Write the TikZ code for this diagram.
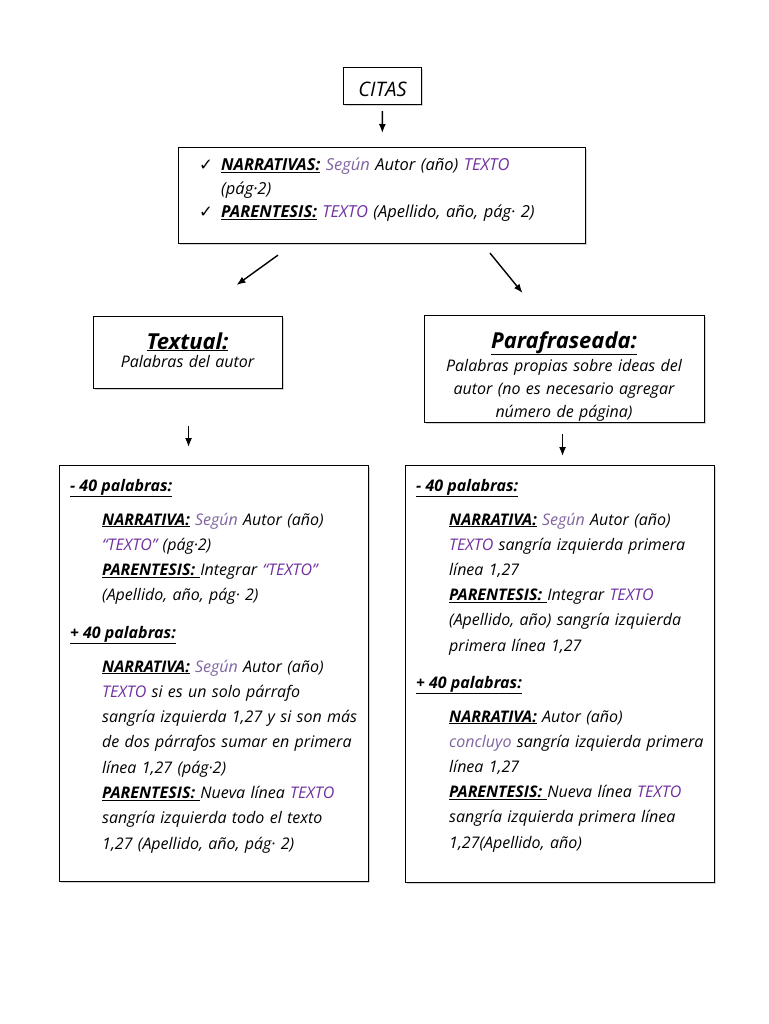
\documentclass[tikz,border=0pt]{standalone}
\usepackage{fontspec}
\setmainfont{Open Sans}
\newfontfamily\simbolos{DejaVu Sans}
\usetikzlibrary{calc,positioning,arrows.meta,shadows}
\definecolor{morado}{HTML}{7030A0}
\definecolor{lila}{HTML}{8064A2}
\newcommand{\mor}[1]{\textcolor{morado}{#1}}
\newcommand{\lil}[1]{\textcolor{lila}{#1}}
\newcommand{\etq}[1]{\underline{\textbf{#1}}}
\newcommand{\chk}{\makebox[22pt][l]{\simbolos ✓}}
\begin{document}
\begin{tikzpicture}[x=1pt,y=-1pt,>={Latex[length=9pt,width=7pt]},
  caja/.style={draw,line width=1.1pt,rectangle,anchor=north west,inner sep=0pt,fill=white,
    drop shadow={shadow xshift=1.2pt,shadow yshift=-1.2pt,opacity=0.35}},
  bloque/.style={anchor=base west,inner sep=0pt,text width=330pt,align=left,font=\itshape\fontsize{16}{25.2}\selectfont},
  cab/.style={anchor=base west,inner sep=0pt,font=\itshape\fontsize{16}{18}\selectfont},
  titulo/.style={anchor=base,inner sep=0pt,font=\bfseries\itshape\fontsize{22}{24}\selectfont},
  flecha/.style={->,line width=1.4pt}]
  \useasboundingbox (0,0) rectangle (768,1024);

  % cajas
  \node[caja,minimum width=78pt,minimum height=37pt,text height=21pt,text depth=0pt,
        font=\itshape\fontsize{20}{22}\selectfont] (citas) at (343,67) {CITAS};
  \node[caja,minimum width=407pt,minimum height=96pt] (main) at (178,147) {};
  \node[caja,minimum width=189pt,minimum height=72pt] (textual) at (93,316) {};
  \node[caja,minimum width=280pt,minimum height=107pt] (para) at (424,315) {};
  \node[caja,minimum width=309pt,minimum height=416pt] (izq) at (59,465) {};
  \node[caja,minimum width=309pt,minimum height=417pt] (der) at (405,465) {};

  % textos
  \node[bloque,text width=390pt,font=\itshape\fontsize{16.5}{23.5}\selectfont] (main-txt) at (199,171)
    {\chk\etq{NARRATIVAS:} \lil{Según} Autor (año) \mor{TEXTO}\\
     \hspace*{22pt}(pág·2)\\
     \chk\etq{PARENTESIS:} \mor{TEXTO} (Apellido, año, pág· 2)};

  \node[titulo] (textual-tit) at (187.5,349) {\underline{Textual:}};
  \node[bloque,anchor=base,text width=189pt,align=center] (textual-txt) at (187.5,367) {Palabras del autor};

  \node[titulo] (para-tit) at (564,348) {\underline{Parafraseada:}};
  \node[bloque,anchor=base,text width=280pt,align=center,font=\itshape\fontsize{16}{23.3}\selectfont] (para-txt) at (564,371)
    {Palabras propias sobre ideas del\\autor (no es necesario agregar\\número de página)};

  \node[cab] (izq-menos) at (70,491) {\etq{- 40 palabras:}};
  \node[bloque] (izq-menos-txt) at (102,525)
    {\etq{NARRATIVA:} \lil{Según} Autor (año)\\
     \mor{“TEXTO”} (pág·2)\\
     \etq{PARENTESIS:\ }Integrar \mor{“TEXTO”}\\
     (Apellido, año, pág· 2)};
  \node[cab] (izq-mas) at (70,638) {\etq{+ 40 palabras:}};
  \node[bloque,font=\itshape\fontsize{16}{25.3}\selectfont] (izq-mas-txt) at (102,672)
    {\etq{NARRATIVA:} \lil{Según} Autor (año)\\
     \mor{TEXTO} si es un solo párrafo\\
     sangría izquierda 1,27 y si son más\\
     de dos párrafos sumar en primera\\
     línea 1,27 (pág·2)\\
     \etq{PARENTESIS:\ }Nueva línea \mor{TEXTO}\\
     sangría izquierda todo el texto\\
     1,27 (Apellido, año, pág· 2)};

  \node[cab] (der-menos) at (416,491) {\etq{- 40 palabras:}};
  \node[bloque] (der-menos-txt) at (449,525)
    {\etq{NARRATIVA:} \lil{Según} Autor (año)\\
     \mor{TEXTO} sangría izquierda primera\\
     línea 1,27\\
     \etq{PARENTESIS:\ }Integrar \mor{TEXTO}\\
     (Apellido, año) sangría izquierda\\
     primera línea 1,27};
  \node[cab] (der-mas) at (416,688) {\etq{+ 40 palabras:}};
  \node[bloque] (der-mas-txt) at (449,722)
    {\etq{NARRATIVA:} Autor (año)\\
     \lil{concluyo} sangría izquierda primera\\
     línea 1,27\\
     \etq{PARENTESIS:\ }Nueva línea \mor{TEXTO}\\
     sangría izquierda primera línea\\
     1,27(Apellido, año)};

  % flechas
  \draw[flecha,shorten <=6pt,shorten >=14pt] (citas) -- (main);
  \draw[flecha] ($(main.south west)+(100,11)$) -- ($(textual.north)+(48.5,-31)$);
  \draw[flecha] ($(main.south west)+(312,9)$) -- ($(para.north)+(-42,-22)$);
  \draw[flecha] ($(textual.south)+(0.5,37)$) -- ($(textual.south |- izq.north)+(0.5,-18)$);
  \draw[flecha] ($(para.south)+(-2,11)$) -- ($(para.south |- der.north)+(-2,-9)$);
\end{tikzpicture}
\end{document}
